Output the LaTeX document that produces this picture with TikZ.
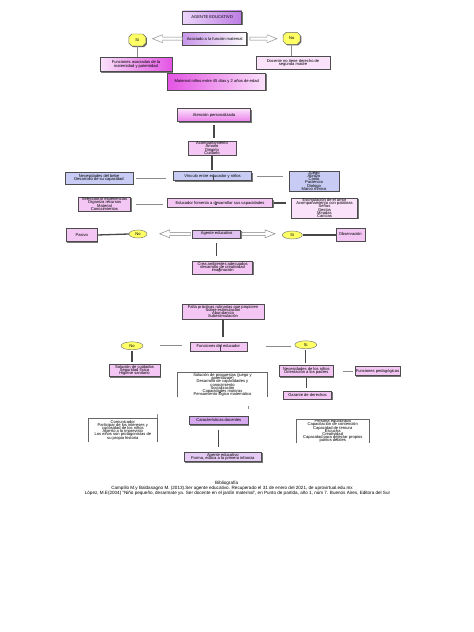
\documentclass[tikz,border=0pt]{standalone}
\usepackage{fontspec}
\setmainfont{Liberation Sans}
\usetikzlibrary{shapes.geometric,shadows,calc}
\definecolor{pinkc}{RGB}{243,198,243}
\definecolor{pinkl}{RGB}{250,226,250}
\definecolor{magc}{RGB}{228,84,228}
\definecolor{lavc}{RGB}{200,204,245}
\definecolor{purL}{RGB}{236,214,250}
\definecolor{purD}{RGB}{188,124,228}
\definecolor{purM}{RGB}{214,168,238}
\definecolor{yelc}{RGB}{255,255,102}
\newcommand\fsz{\fontsize{4.1}{3.2}\selectfont\lineskiplimit=-5pt\lineskip=0pt}
\newcommand\bsz{\fontsize{4.6}{5}\selectfont}
\newcommand\octa[1]{%
  \path[fill=black!60] ($(#1)+(1.1,1.1)$) ++(-5.5,-6) -- ++(11,0) -- ++(3,3) -- ++(0,6) -- ++(-3,3) -- ++(-11,0) -- ++(-3,-3) -- ++(0,-6) -- cycle;
  \path[draw=black!60, fill=yelc, line width=0.45bp] (#1) ++(-5.5,-6) -- ++(11,0) -- ++(3,3) -- ++(0,6) -- ++(-3,3) -- ++(-11,0) -- ++(-3,-3) -- ++(0,-6) -- cycle;}
\begin{document}
\begin{tikzpicture}[x=1bp,y=-1bp,
  sz/.style 2 args={minimum width=#1bp, minimum height=#2bp},
  box/.style={draw=black!70, line width=0.45bp, inner sep=0.5bp, align=center, font=\fsz,
    drop shadow={shadow xshift=1.1bp, shadow yshift=-1.1bp, fill=black!60, opacity=0.9}},
  pinkbox/.style={box, fill=pinkc},
  lightbox/.style={box, fill=pinkl},
  lavbox/.style={box, fill=lavc},
  purbox/.style={box, left color=purL, right color=purD},
  octo/.style={inner sep=0pt, font=\fsz, sz={17}{12}},
  oval/.style={ellipse, draw=black!55, fill=yelc, line width=0.45bp, inner sep=0pt, font=\fsz},
  brk/.style={inner sep=0.5bp, align=center, font=\fsz, fill=white},
  brkline/.style={draw=black!60, line width=0.7bp},
  trunk/.style={draw=black!72, line width=1.3bp},
  side/.style={draw=black!45, line width=0.8bp},
  hollow/.style={draw=black!50, fill=white, line width=0.45bp}]
\useasboundingbox[fill=white] (0,0) rectangle (474,632);

% top block
\node[purbox, sz={59}{13}] (ag) at (212.2,17.3) {AGENTE EDUCATIVO};
\node[box, sz={64}{12.7}, left color=purD!80, right color=white] (aso) at (214.7,38.7) {Asociado a la función maternal};
\coordinate (si1c) at (137.3,40);
\coordinate (no1c) at (291.7,38.3);
\octa{si1c}
\octa{no1c}
\node[octo] (si1) at (si1c) {Si};
\node[octo] (no1) at (no1c) {No};
\node[box, sz={72}{14}, left color=pinkl, right color=magc] (fa) at (136,64.5) {Funciones asociadas de la\\maternidad y paternidad};
\node[lightbox, sz={74}{13}] (doc) at (293,62.7) {Docente no tiene derecho de\\segunda madre};
\node[box, sz={98}{16.7}, left color=magc, right color=pinkl] (mat) at (216.7,81.7) {Maternal niños entre 45 días y 2 años de edad};
\node[box, sz={73}{13}, top color=pinkl, bottom color=magc!75] (at) at (214,115) {Atención personalizada};
\node[pinkbox, sz={48}{14}] (aco) at (212,148) {Acompañamiento\\Amarlo\\Dirigirlo\\Cuidarlo};
\node[lavbox, sz={78}{9}] (vin) at (212.5,176) {Vínculo entre educador y niños};
\node[lavbox, sz={68}{12}] (neb) at (99,178) {Necesidades del bebe\\Desarrollo de su capacidad};
\node[lavbox, sz={50}{20}] (jue) at (314,181) {Juego\\Abrazo\\Canto\\Paciencia\\Dialogo\\Marco rítmico};
\node[pinkbox, sz={105}{8.5}, line width=0.8bp] (edu) at (220,203) {Educador fomenta a desarrollar sus capacidades};
\node[pinkbox, sz={52}{13}] (sel) at (104.5,204) {Seleccionar experiencias\\Organiza recursos\\Material\\Conocimientos};
\node[lightbox, sz={66}{18}] (est) at (324.5,208) {Estimulación de el amor\\Acompañamiento con palabras\\Señas\\Gestos\\Miradas\\Caricias};

% middle
\node[box, sz={48}{8}, fill=purM!70] (ag2) at (216.7,233.8) {Agente educativo};
\node[oval, sz={18}{8}] (no2) at (138,234) {No};
\node[oval, sz={20}{8}] (si2) at (292.3,235) {Si};
\node[pinkbox, sz={31}{13}] (pas) at (81.7,235) {Pasivo};
\node[pinkbox, sz={29}{13}] (obs) at (350.3,234.3) {Observación};
\node[pinkbox, sz={60}{13}] (crea) at (222.7,267.3) {Crea ambientes adecuados\\desarrollo de creatividad\\imaginación};
\node[pinkbox, sz={82}{15}] (fal) at (223,311.7) {Falta prácticas rutinarias que propicien\\Sobre estimulación\\Abundancia\\Subestimulación};
\node[pinkbox, sz={57}{8.5}] (fun) at (218.3,346.5) {Funciones del educador};
\node[oval, sz={22}{8}] (no3) at (132,345.8) {No};
\node[oval, sz={22}{8}] (si3) at (305.8,344.8) {Si};
\node[pinkbox, sz={51}{12}] (sol) at (134.5,370.5) {Solución de cuidados\\Seguridad física\\Higiene sanitario};
\node[pinkbox, sz={54}{11}] (nec) at (306.3,371.2) {Necesidades de los niños\\Orientación a los padres};
\node[pinkbox, sz={45}{9}] (fped) at (377.5,371) {Funciones pedagógicas};
\node[pinkbox, sz={48}{7.5}] (gar) at (307.5,395) {Garante de derechos};
\node[brk, sz={90}{23}] (prop) at (222.5,385) {Solución de propuestas (juego y\\aprendizaje)\\Desarrollo de capacidades y\\conocimiento\\Socialización\\Capacidades motoras\\Pensamiento lógico matemático};

% bottom
\node[box, sz={59}{8}, fill=purM] (car) at (218.8,420.5) {Características docentes};
\node[brk, sz={69}{23}] (com) at (122.8,430) {Comunicador\\Participar de los intereses y\\curiosidad de los niños\\Abierto a lo imprevisto\\Los niños son protagonistas de\\su propia historia};
\node[brk, sz={73}{22.7}] (per) at (332.7,431.3) {Persona equilibrada\\Capacitación de contención\\Capacidad de ternura\\Escucha\\Creatividad\\Capacidad para detectar propios\\puntos débiles};
\node[box, sz={77.7}{9.3}, fill=purM!60] (agf) at (222.8,457) {Agente educativo\\Forma, educa a la primera infancia};

% bibliography
\node[font=\bsz, inner sep=0pt] (b1) at (226.7,483.3) {Bibliografía};
\node[font=\bsz, inner sep=0pt] (b2) at (232,488.3) {Campillo M.y Baldasagno M. (2013).Ser agente educativo. Recuperado el 31 de enero del 2021, de uprovirtual.edu.mx};
\node[font=\bsz, inner sep=0pt] (b3) at (237.5,492.8) {López, M.E(2004) "Niño pequeño, desarmate ya. Ser docente en el jardín maternal", en Punto de partida, año 1, núm 7. Buenos Aires, Editora del Sur};

% bracket outlines
\foreach \n in {prop,com,per}{
  \draw[brkline] (\n.south west) -- (\n.north west) -- (\n.north east) -- (\n.south east);
}

% hollow arrows
\draw[hollow] let \p1=(aso.west), \p2=($(si1.east)+(6.5,0)$) in
  (\x1,\y1+1.5bp) -- (\x2+10bp,\y1+1.5bp) -- (\x2+10bp,\y1+4bp) -- (\x2,\y1) -- (\x2+10bp,\y1-4bp) -- (\x2+10bp,\y1-1.5bp) -- (\x1,\y1-1.5bp) -- cycle;
\draw[hollow] let \p1=($(aso.east)+(3,0)$), \p2=($(no1.west)+(-6,0)$) in
  (\x1,\y1+1.5bp) -- (\x2-10bp,\y1+1.5bp) -- (\x2-10bp,\y1+4bp) -- (\x2,\y1) -- (\x2-10bp,\y1-4bp) -- (\x2-10bp,\y1-1.5bp) -- (\x1,\y1-1.5bp) -- cycle;
\draw[hollow] let \p1=($(ag2.west)+(-2,0)$), \p2=($(no2.east)+(12.5,0)$) in
  (\x1,\y1+1.5bp) -- (\x2+10bp,\y1+1.5bp) -- (\x2+10bp,\y1+4bp) -- (\x2,\y1) -- (\x2+10bp,\y1-4bp) -- (\x2+10bp,\y1-1.5bp) -- (\x1,\y1-1.5bp) -- cycle;
\draw[hollow] let \p1=($(ag2.east)+(1,0)$), \p2=($(si2.west)+(-7,0)$) in
  (\x1,\y1+1.5bp) -- (\x2-10bp,\y1+1.5bp) -- (\x2-10bp,\y1+4bp) -- (\x2,\y1) -- (\x2-10bp,\y1-4bp) -- (\x2-10bp,\y1-1.5bp) -- (\x1,\y1-1.5bp) -- cycle;

% connectors
\draw[trunk] ($(aso.south)+(-3,0)$) -- ($(aso.south)+(-3,0)$ |- mat.north);
\draw[trunk] ($(mat.south)+(-5,0)$) -- ($(mat.south)+(-5,0)$ |- at.north);
\draw[side] (si1.south) -- (si1.south |- fa.north);
\draw[side] (no1.south) -- (no1.south |- doc.north);
\draw[trunk, shorten <=3bp, shorten >=3bp] (at.south) -- (at.south |- aco.north);
\draw[trunk, shorten >=1bp] (aco.south) -- (aco.south |- vin.north);
\draw[side, shorten <=3bp, shorten >=7bp] (neb.east) -- (neb.east -| vin.west);
\draw[side, shorten <=5.5bp, shorten >=6bp] (vin.east) -- (vin.east -| jue.west);
\draw[trunk, shorten >=5bp] ($(vin.south)+(1,0)$) -- ($(vin.south)+(1,0)$ |- edu.north);
\draw[side, shorten <=5bp, shorten >=4bp] (sel.east) -- (sel.east -| edu.west);
\draw[trunk, shorten <=1bp, shorten >=5bp] (edu.east) -- (edu.east -| est.west);
\draw[trunk, shorten <=4bp, shorten >=3bp] ($(edu.south)+(-4,0)$) -- ($(edu.south)+(-4,0)$ |- ag2.north);
\draw[trunk] (pas.east) -- (no2.west);
\draw[trunk] (si2.east) -- (si2.east -| obs.west);
\draw[trunk, shorten <=5bp, shorten >=5bp] (ag2.south) -- (ag2.south |- crea.north);
\draw[trunk, shorten <=4bp, shorten >=6bp] ($(crea.south)+(-3,0)$) -- ($(crea.south)+(-3,0)$ |- fal.north);
\draw[trunk, shorten <=1bp, shorten >=5bp] (fal.south) -- (fal.south |- fun.north);
\draw[side, shorten <=17bp, shorten >=8bp] (no3.east) -- (no3.east -| fun.west);
\draw[side, shorten <=19bp, shorten >=4bp] (fun.east) -- (fun.east -| si3.west);
\draw[trunk, shorten <=1bp, shorten >=2bp] (no3.south) -- (no3.south |- sol.north);
\draw[trunk, shorten <=1bp, shorten >=2bp] (si3.south) -- (si3.south |- nec.north);
\draw[side, shorten <=9bp, shorten >=2bp] (nec.east) -- (nec.east -| fped.west);
\draw[trunk, shorten <=1bp, shorten >=3bp] (nec.south) -- (nec.south |- gar.north);
\draw[trunk, shorten <=6bp] ($(fun.south)+(2.5,0)$) -- ($(fun.south)+(2.5,0)$ |- prop.north);
\draw[trunk, shorten <=5bp, shorten >=4bp] ($(prop.south)+(-2.5,0)$) -- ($(prop.south)+(-2.5,0)$ |- car.north);
\draw[side, shorten <=8bp, shorten >=4bp] ($(com.east)+(0,-8)$) -- ($(com.east)+(0,-8)$ -| car.west);
\draw[side, shorten <=14bp, shorten >=11bp] ($(car.east)+(0,-0.5)$) -- ($(car.east)+(0,-0.5)$ -| per.west);
\draw[trunk, shorten <=5bp, shorten >=5bp] (car.south) -- (car.south |- agf.north);
\end{tikzpicture}
\end{document}
